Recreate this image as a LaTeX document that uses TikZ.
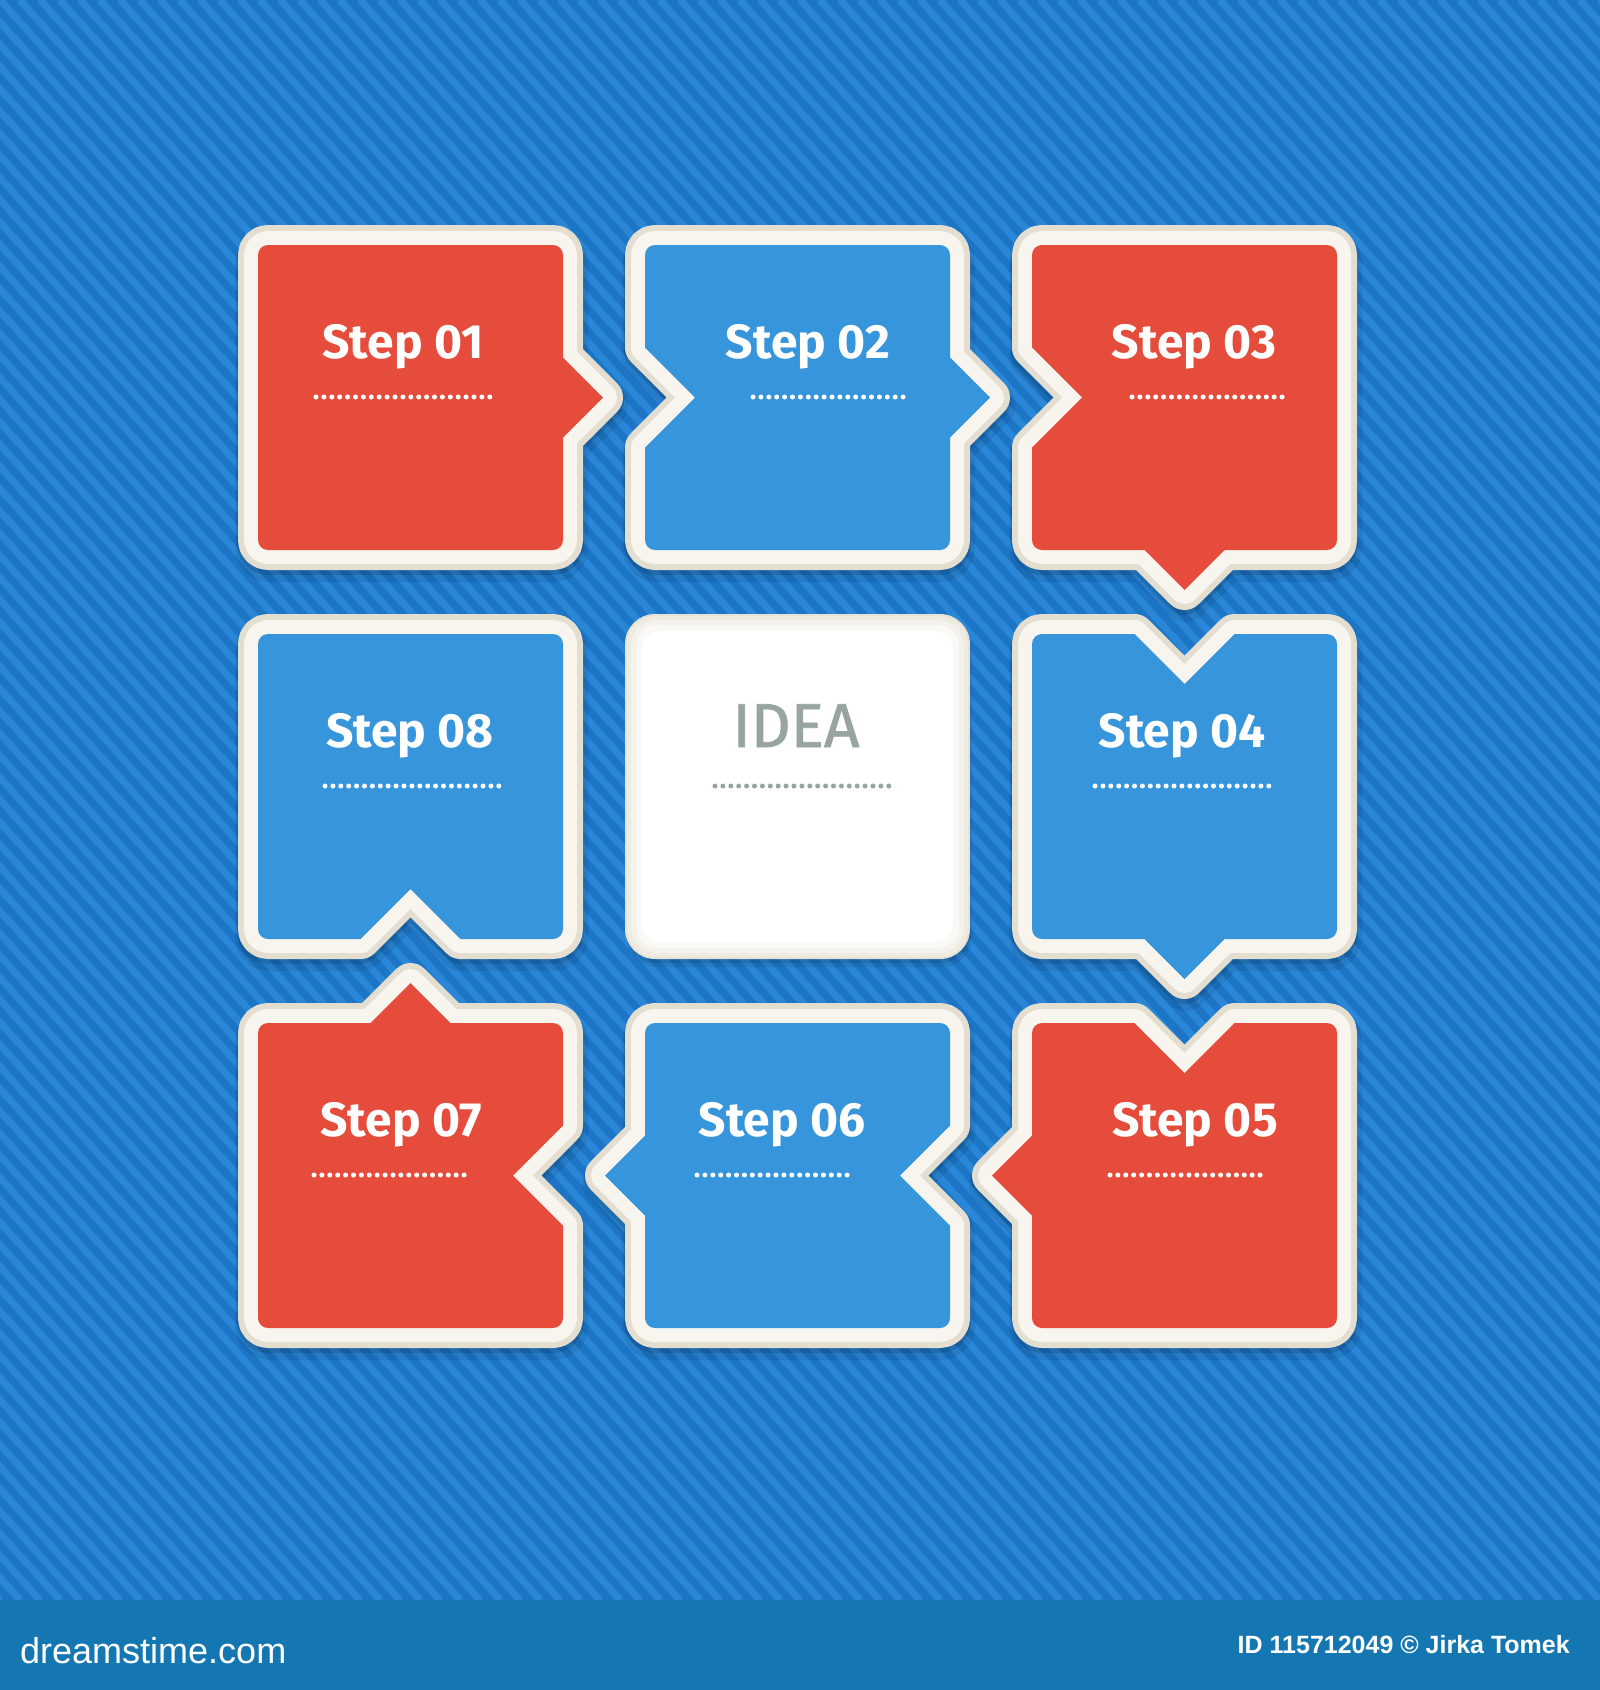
\documentclass[tikz,border=0pt]{standalone}
\usepackage{fontspec}
\setmainfont{Fira Sans}
\newfontfamily\ideafont{Fira Sans}[FakeBold=1.2]
\newfontfamily\libsans{Liberation Sans}
\definecolor{bgbase}{HTML}{1D75C6}
\definecolor{bgstripe}{HTML}{2A87D7}
\definecolor{barc}{HTML}{1477B2}
\definecolor{redf}{HTML}{E64C3C}
\definecolor{bluef}{HTML}{3796DB}
\definecolor{bordark}{HTML}{E3DED0}
\definecolor{borlight}{HTML}{F7F5EE}
\definecolor{ideagrey}{HTML}{98A49F}
\definecolor{ideaA}{HTML}{E6E2D5}
\definecolor{ideaB}{HTML}{EEEBE1}
\definecolor{ideaC}{HTML}{F4F2EC}
\definecolor{ideaD}{HTML}{FAF9F6}
\tikzset{
  lbl/.style={text=white, font=\bfseries\fontsize{48}{56}\selectfont, anchor=base, inner sep=0pt},
  idealbl/.style={text=ideagrey, font=\ideafont\fontsize{62}{72}\selectfont, anchor=base, inner sep=0pt},
  bordout/.style={draw=bordark, line width=40pt, line join=round},
  bordin/.style={draw=borlight, line width=28pt, line join=round},
  shadowa/.style={draw=black, draw opacity=.08, line width=48pt, line join=round, shift={(1,8)}},
  shadowb/.style={draw=black, draw opacity=.12, line width=42pt, line join=round, shift={(0,4)}},
  stripe/.style={draw=bgstripe, line width=7pt}
}
\newcommand\stepbox[7]{%
  \pgfmathsetmacro\xL{#1+20}\pgfmathsetmacro\xR{#1+325}%
  \pgfmathsetmacro\yT{#2+20}\pgfmathsetmacro\yB{#2+325}%
  \pgfmathsetmacro\cx{#1+172.5}\pgfmathsetmacro\cy{#2+172.5}%
  \ifcase#3 \def\ftop{}\or\def\ftop{-- (\cx-40,\yT) -- (\cx,\yT-40) -- (\cx+40,\yT)}\or\def\ftop{-- (\cx-50,\yT) -- (\cx,\yT+50) -- (\cx+50,\yT)}\fi
  \ifcase#4 \def\fright{}\or\def\fright{-- (\xR,\cy-40) -- (\xR+40,\cy) -- (\xR,\cy+40)}\or\def\fright{-- (\xR,\cy-50) -- (\xR-50,\cy) -- (\xR,\cy+50)}\fi
  \ifcase#5 \def\fbot{}\or\def\fbot{-- (\cx+40,\yB) -- (\cx,\yB+40) -- (\cx-40,\yB)}\or\def\fbot{-- (\cx+50,\yB) -- (\cx,\yB-50) -- (\cx-50,\yB)}\fi
  \ifcase#6 \def\fleft{}\or\def\fleft{-- (\xL,\cy+40) -- (\xL-40,\cy) -- (\xL,\cy-40)}\or\def\fleft{-- (\xL,\cy+50) -- (\xL+50,\cy) -- (\xL,\cy-50)}\fi
  \edef\shp{(\xL+10,\yT) \ftop -- (\xR-10,\yT) .. controls (\xR-4.48,\yT) and (\xR,\yT+4.48) .. (\xR,\yT+10) \fright -- (\xR,\yB-10) .. controls (\xR,\yB-4.48) and (\xR-4.48,\yB) .. (\xR-10,\yB) \fbot -- (\xL+10,\yB) .. controls (\xL+4.48,\yB) and (\xL,\yB-4.48) .. (\xL,\yB-10) \fleft -- (\xL,\yT+10) .. controls (\xL,\yT+4.48) and (\xL+4.48,\yT) .. (\xL+10,\yT) -- cycle}%
  \draw[shadowa] \shp;
  \draw[shadowb] \shp;
  \draw[bordout] \shp;
  \draw[bordin] \shp;
  \fill[#7] \shp;
}
\newcommand\dotrow[4]{%
  \foreach \k in {1,...,#3} {\fill[#4] ({#1+(\k-1)*7.9},#2) circle (2.5pt);}
}
\begin{document}
\begin{tikzpicture}[x=1pt,y=-1pt]
\useasboundingbox (0,0) rectangle (1600,1690);
% background
\fill[bgbase] (0,0) rectangle (1600,1600);
\begin{scope}
  \clip (0,0) rectangle (1600,1600);
  \foreach \i in {-75,...,82} {\draw[stripe] (\i*20,0) -- ++(1440,1600);}
\end{scope}
\fill[barc] (0,1600) rectangle (1600,1690);
% step boxes
\stepbox{238}{225}{0}{1}{0}{0}{redf}
\stepbox{625}{225}{0}{1}{0}{2}{bluef}
\stepbox{1012}{225}{0}{0}{1}{2}{redf}
\stepbox{1012}{614}{2}{0}{1}{0}{bluef}
\stepbox{1012}{1003}{2}{0}{0}{1}{redf}
\stepbox{625}{1003}{0}{2}{0}{1}{bluef}
\stepbox{238}{1003}{1}{2}{0}{0}{redf}
\stepbox{238}{614}{0}{0}{2}{0}{bluef}
% idea box
\fill[black, opacity=.08, rounded corners=30pt] (627,622) rectangle (972,967);
\fill[black, opacity=.10, rounded corners=30pt] (626,618) rectangle (971,963);
\fill[ideaA, rounded corners=30pt] (625,614) rectangle (970,959);
\fill[ideaB, rounded corners=28pt] (627,616) rectangle (968,957);
\fill[ideaC, rounded corners=26pt] (631,620) rectangle (964,953);
\fill[ideaD, rounded corners=22pt] (636,625) rectangle (959,948);
\fill[white, rounded corners=18pt] (642,631) rectangle (953,942);
% labels
\node[lbl] (s1) at (403,358) {Step 01};
\node[lbl] (s2) at (808,358) {Step 02};
\node[lbl] (s3) at (1194,358) {Step 03};
\node[lbl] (s4) at (1182,747) {Step 04};
\node[lbl] (s5) at (1195,1136) {Step 05};
\node[lbl] (s6) at (782,1136) {Step 06};
\node[lbl] (s7) at (401,1136) {Step 07};
\node[lbl] (s8) at (410,747) {Step 08};
\node[idealbl] (idea) at (796,747) {IDEA};
% dotted rules
\dotrow{316}{397}{23}{white}
\dotrow{753}{397}{20}{white}
\dotrow{1132}{397}{20}{white}
\dotrow{325}{786}{23}{white}
\dotrow{715}{786}{23}{ideagrey}
\dotrow{1095}{786}{23}{white}
\dotrow{314}{1175}{20}{white}
\dotrow{697}{1175}{20}{white}
\dotrow{1110}{1175}{20}{white}
% footer
\node[anchor=base west, inner sep=0pt, text=white, font=\libsans\fontsize{36}{40}\selectfont] (brand) at (20,1663) {dreamstime.com};
\node[anchor=base east, inner sep=0pt, text=white, font=\libsans\bfseries\fontsize{25}{30}\selectfont] (credit) at (1570,1653) {ID 115712049 © Jirka Tomek};
\end{tikzpicture}
\end{document}
